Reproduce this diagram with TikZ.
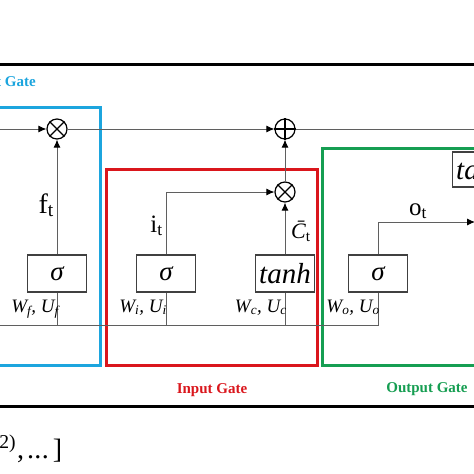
\documentclass[tikz,border=0pt]{standalone}
\usepackage{fontspec}
\usetikzlibrary{arrows.meta}
\newfontfamily\labfont{Liberation Serif}
\newfontfamily\symfont{Liberation Serif}
\newcommand{\mysub}[1]{\textsubscript{#1}}
\definecolor{fgblue}{RGB}{28,165,222}
\definecolor{igred}{RGB}{218,22,28}
\definecolor{oggreen}{RGB}{22,158,82}
\definecolor{linegray}{RGB}{95,95,95}
\tikzset{
  gatebox/.style={draw=black!75, line width=1.1pt, minimum width=59pt, minimum height=37pt, inner sep=0pt, font=\symfont\itshape\fontsize{27}{28}\selectfont},
  opnode/.style={circle, draw=black, line width=1.2pt, minimum size=20pt, inner sep=0pt},
  conn/.style={draw=linegray, line width=0.9pt},
  arr/.style={conn, -{Latex[length=8pt,width=7pt,color=black]}},
  wl/.style={inner sep=0pt, font=\symfont\itshape\fontsize{19}{21}\selectfont},
  vl/.style={inner sep=0pt, font=\symfont\fontsize{28}{30}\selectfont},
  glabel/.style={inner sep=0pt, font=\labfont\bfseries\fontsize{15}{17}\selectfont},
  framebox/.style={line width=3pt}
}
\begin{document}
\begin{tikzpicture}[x=1pt,y=-1pt]
\useasboundingbox (0,0) rectangle (474,474);
\clip (0,0) rectangle (474,474);
\fill[white] (0,0) rectangle (474,474);
% frames
\draw[framebox, black] (-10,64) rectangle (484,406);
\draw[framebox, fgblue] (-10,107) rectangle (100,365);
\draw[framebox, igred] (106,169) rectangle (317,365);
\draw[framebox, oggreen] (322,148) rectangle (484,365);
% gate labels
\node[glabel, text=fgblue, anchor=east] (lfg) at (36,83) {Forget Gate};
\node[glabel, text=igred] (lig) at (212,390) {Input Gate};
\node[glabel, text=oggreen] (log) at (427,389) {Output Gate};
% boxes
\node[gatebox] (sf) at (57,273.5) {σ};
\node[gatebox] (si) at (166,273.5) {σ};
\node[gatebox, font=\symfont\itshape\fontsize{29}{30}\selectfont] (tc) at (285,273.5) {tanh};
\node[gatebox] (so) at (378,273.5) {σ};
\node[gatebox, minimum height=35pt, font=\symfont\itshape\fontsize{29}{30}\selectfont] (to) at (482,169.5) {tanh};
% operators
\node[opnode] (mf) at (57,129) {};
\node[opnode] (pc) at (285,129) {};
\node[opnode] (mi) at (285,192) {};
\draw[line width=1.2pt] (mf.north east) -- (mf.south west) (mf.north west) -- (mf.south east);
\draw[line width=1.2pt] (mi.north east) -- (mi.south west) (mi.north west) -- (mi.south east);
\draw[line width=1.2pt] (pc.north) -- (pc.south) (pc.west) -- (pc.east);
% cell state
\coordinate (cin) at (-5,129);
\coordinate (cout) at (480,129);
\draw[arr] (cin) -- (mf);
\draw[arr] (mf) -- (pc);
\draw[conn] (pc) -- (cout);
% gate outputs
\draw[arr] (sf) -- (mf);
\draw[arr] (mi) -- (pc);
\draw[arr] (tc) -- (mi);
\draw[arr] (si.north) |- (mi.west);
\coordinate (oend) at (475,222);
\draw[arr] (so.north) |- (oend);
% input bus
\coordinate (busL) at (-5,325);
\draw[conn] (busL) -- (so.south |- busL) -- (so.south);
\draw[conn] (sf.south) -- (sf.south |- busL);
\draw[conn] (si.south) -- (si.south |- busL);
\draw[conn] (tc.south) -- (tc.south |- busL);
% weight labels
\node[wl, anchor=base east] (wf) at (59,312) {W\mysub{f}, U\mysub{f}};
\node[wl, anchor=base east] (wi) at (167,312) {W\mysub{i}, U\mysub{i}};
\node[wl, anchor=base east] (wc) at (287,312) {W\mysub{c}, U\mysub{c}};
\node[wl, anchor=base east] (wo) at (380,312) {W\mysub{o}, U\mysub{o}};
% signal labels
\node[vl, anchor=base east] (ft) at (54,213) {f\mysub{t}};
\node[vl, anchor=base east, font=\symfont\fontsize{25}{27}\selectfont] (it) at (163,232) {i\mysub{t}};
\node[vl, anchor=base west, font=\symfont\fontsize{22}{24}\selectfont] (ct) at (291,238) {\itshape\={C}\upshape\mysub{t}};
\node[vl, anchor=base, font=\symfont\fontsize{25}{27}\selectfont] (ot) at (418,215) {o\mysub{t}};
% sequence text
\node[vl, anchor=base east] (seq) at (62.3,458) {[x\textsuperscript{(1)}, x\textsuperscript{(2)}\kern1pt,\kern3pt.\kern0.3pt.\kern0.3pt.\kern4pt]};
\end{tikzpicture}
\end{document}
